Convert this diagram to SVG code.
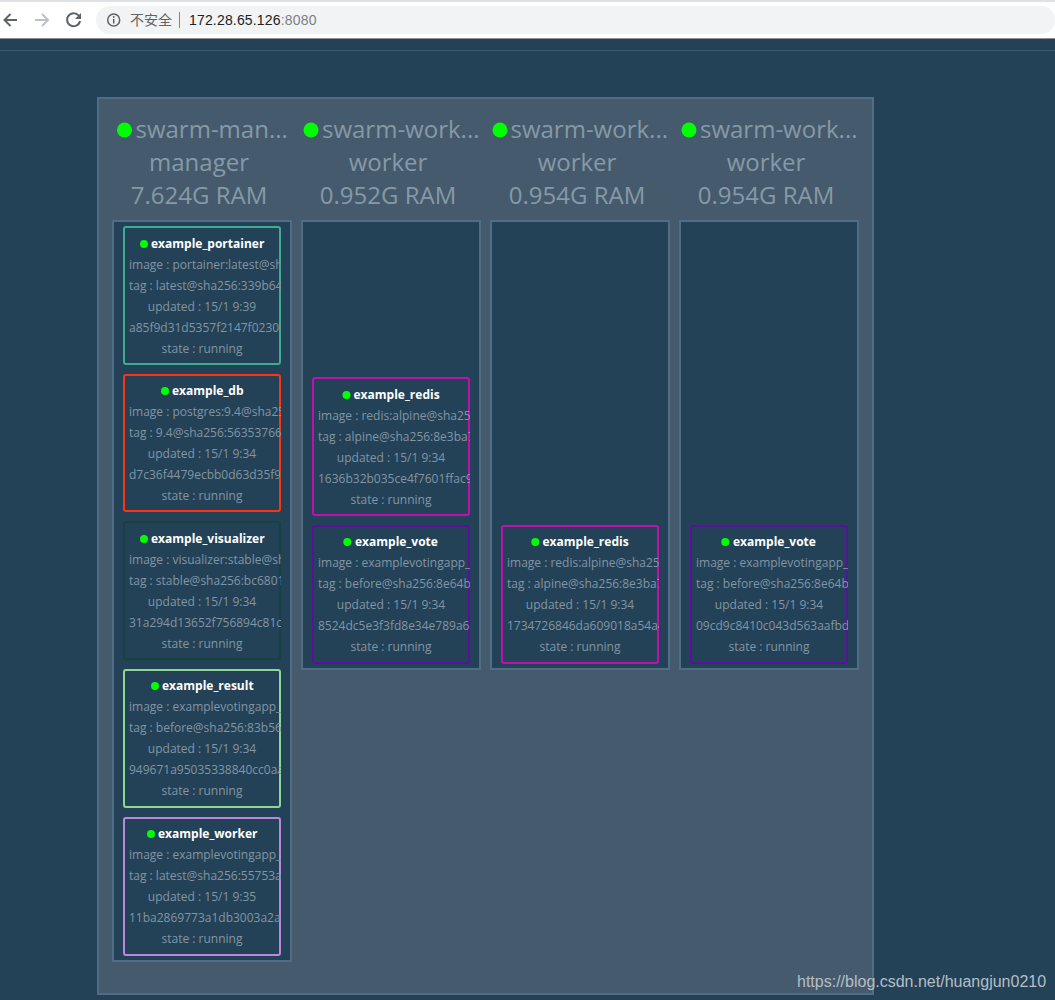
<svg xmlns="http://www.w3.org/2000/svg" width="1055" height="1000" viewBox="0 0 1055 1000">
<style>
.bar{fill:#fff}
.nodeh{font:24px "Open Sans",sans-serif;fill:#8699a7;text-anchor:middle}
.nodes{font:24px "Open Sans",sans-serif;fill:#8699a7}
.col{fill:#244257;stroke:#4f6d84;stroke-width:2}
.card{fill:#244257;stroke-width:2}
.t{font:bold 12px "Open Sans",sans-serif;fill:#fff}
.l{font:12px "Open Sans",sans-serif;fill:#8295a4}
.m{text-anchor:middle}
.dot{fill:#0f0}
</style>
<defs><clipPath id="cc"><rect x="0" y="0" width="157" height="138"/></clipPath></defs>
<rect width="1055" height="1000" fill="#244257"/>
<g id="browser">
<rect class="bar" width="1055" height="38"/>
<rect width="1055" height="2" fill="#dee1e6"/>
<rect y="38" width="1055" height="1" fill="#8a8f94"/>
<rect x="96" y="6" width="959" height="28" rx="14" fill="#f1f3f4"/>
<path d="M17 20H4.500M10.500 14l-6 6 6 6" fill="none" stroke="#5f6368" stroke-width="2"/>
<path d="M35 20h13M42 14l6 6-6 6" fill="none" stroke="#bdc1c6" stroke-width="2"/>
<path d="M79.500 17a6.500 6.500 0 1 0 .5 4" fill="none" stroke="#5f6368" stroke-width="2"/>
<path d="M81 13v6h-6z" fill="#5f6368"/>
<circle cx="113.700" cy="20" r="6" fill="none" stroke="#5f6368" stroke-width="1.500"/>
<path d="M113.700 19v4.500M113.700 16v1.700" stroke="#5f6368" stroke-width="1.500"/>
<text x="130" y="25" style="font:14px 'Noto Sans CJK SC',sans-serif;fill:#5f6368">不安全</text>
<rect x="179" y="12" width="1" height="16" fill="#80868b"/>
<text x="189" y="25" style="font:14px 'Liberation Sans',sans-serif;letter-spacing:.17px"><tspan fill="#202124">172.28.65.126</tspan><tspan fill="#7b8087">:8080</tspan></text>
</g>
<rect id="topline" y="50" width="1055" height="1" fill="#3a5a70"/>
<rect id="swarm" x="98" y="98" width="775" height="896" fill="#455b6d" stroke="#4f6d84" stroke-width="2"/>

<g id="node-manager">
<circle class="dot" cx="124.500" cy="130" r="7.500"/><text class="nodes" x="135.500" y="138">swarm-man...</text>
<text class="nodeh" x="199" y="171">manager</text><text class="nodeh" x="199" y="204">7.624G RAM</text>
<rect class="col" x="113" y="221" width="178" height="740"/>
</g>
<g id="node-worker1">
<circle class="dot" cx="311" cy="130" r="7.500"/><text class="nodes" x="322" y="138">swarm-work...</text>
<text class="nodeh" x="388" y="171">worker</text><text class="nodeh" x="388" y="204">0.952G RAM</text>
<rect class="col" x="302" y="221" width="178" height="448"/>
</g>
<g id="node-worker2">
<circle class="dot" cx="500" cy="130" r="7.500"/><text class="nodes" x="510.500" y="138">swarm-work...</text>
<text class="nodeh" x="577" y="171">worker</text><text class="nodeh" x="577" y="204">0.954G RAM</text>
<rect class="col" x="491" y="221" width="178" height="448"/>
</g>
<g id="node-worker3">
<circle class="dot" cx="689" cy="130" r="7.500"/><text class="nodes" x="700" y="138">swarm-work...</text>
<text class="nodeh" x="766" y="171">worker</text><text class="nodeh" x="766" y="204">0.954G RAM</text>
<rect class="col" x="680" y="221" width="178" height="448"/>
</g>

<g id="task-portainer" transform="translate(124,227)">
<rect class="card" width="156" height="137" rx="2" stroke="#3fab8f"/>
<g clip-path="url(#cc)"><circle class="dot" cx="20" cy="17" r="4"/><text class="t" x="27" y="21">example_portainer</text>
<text class="l" x="5" y="42">image : portainer:latest@sha256:339b64</text><text class="l" x="5" y="63">tag : latest@sha256:339b64a5f</text>
<text class="l m" x="78" y="84">updated : 15/1 9:39</text><text class="l" x="5" y="105">a85f9d31d5357f2147f02301abc</text><text class="l m" x="78" y="126">state : running</text></g>
</g>
<g id="task-db" transform="translate(124,375)">
<rect class="card" width="156" height="136" rx="2" stroke="#ff3311"/>
<g clip-path="url(#cc)"><circle class="dot" cx="41" cy="16" r="4"/><text class="t" x="48" y="20">example_db</text>
<text class="l" x="5" y="41">image : postgres:9.4@sha256:56353</text><text class="l" x="5" y="62">tag : 9.4@sha256:563537660abc</text>
<text class="l m" x="78" y="83">updated : 15/1 9:34</text><text class="l" x="5" y="104">d7c36f4479ecbb0d63d35f9abc12</text><text class="l m" x="78" y="125">state : running</text></g>
</g>
<g id="task-visualizer" transform="translate(124,522)">
<rect class="card" width="156" height="137" rx="2" stroke="#17423f"/>
<g clip-path="url(#cc)"><circle class="dot" cx="20" cy="17" r="4"/><text class="t" x="27" y="21">example_visualizer</text>
<text class="l" x="5" y="42">image : visualizer:stable@sha256:bc</text><text class="l" x="5" y="63">tag : stable@sha256:bc680132abc</text>
<text class="l m" x="78" y="84">updated : 15/1 9:34</text><text class="l" x="5" y="105">31a294d13652f756894c81cabc12</text><text class="l m" x="78" y="126">state : running</text></g>
</g>
<g id="task-result" transform="translate(124,670)">
<rect class="card" width="156" height="137" rx="2" stroke="#8fd694"/>
<g clip-path="url(#cc)"><circle class="dot" cx="31" cy="16" r="4"/><text class="t" x="38" y="20">example_result</text>
<text class="l" x="5" y="41">image : examplevotingapp_result</text><text class="l" x="5" y="62">tag : before@sha256:83b568abc12</text>
<text class="l m" x="78" y="83">updated : 15/1 9:34</text><text class="l" x="5" y="104">949671a95035338840cc0aabc12</text><text class="l m" x="78" y="125">state : running</text></g>
</g>
<g id="task-worker" transform="translate(124,818)">
<rect class="card" width="156" height="137" rx="2" stroke="#bb88dd"/>
<g clip-path="url(#cc)"><circle class="dot" cx="27" cy="16" r="4"/><text class="t" x="34" y="20">example_worker</text>
<text class="l" x="5" y="41">image : examplevotingapp_worker</text><text class="l" x="5" y="62">tag : latest@sha256:55753abc1234</text>
<text class="l m" x="78" y="83">updated : 15/1 9:35</text><text class="l" x="5" y="104">11ba2869773a1db3003a2aabc123</text><text class="l m" x="78" y="125">state : running</text></g>
</g>
<g id="task-redis-1" transform="translate(313,378)">
<rect class="card" width="156" height="137" rx="2" stroke="#c10fb0"/>
<g clip-path="url(#cc)"><circle class="dot" cx="33.500" cy="17" r="4"/><text class="t" x="40.500" y="21">example_redis</text>
<text class="l" x="5" y="42">image : redis:alpine@sha256:8e3ba</text><text class="l" x="5" y="63">tag : alpine@sha256:8e3ba7abc12</text>
<text class="l m" x="78" y="84">updated : 15/1 9:34</text><text class="l" x="5" y="105">1636b32b035ce4f7601ffac9abc12</text><text class="l m" x="78" y="126">state : running</text></g>
</g>
<g id="task-vote-1" transform="translate(313,526)">
<rect class="card" width="156" height="137" rx="2" stroke="#5c0f9c"/>
<g clip-path="url(#cc)"><circle class="dot" cx="34.300" cy="16" r="4"/><text class="t" x="42" y="20">example_vote</text>
<text class="l" x="5" y="41">image : examplevotingapp_vote</text><text class="l" x="5" y="62">tag : before@sha256:8e64b18abc1</text>
<text class="l m" x="78" y="83">updated : 15/1 9:34</text><text class="l" x="5" y="104">8524dc5e3f3fd8e34e789a6abc123</text><text class="l m" x="78" y="125">state : running</text></g>
</g>
<g id="task-redis-2" transform="translate(502,526)">
<rect class="card" width="156" height="137" rx="2" stroke="#c10fb0"/>
<g clip-path="url(#cc)"><circle class="dot" cx="33.300" cy="16" r="4"/><text class="t" x="40.500" y="20">example_redis</text>
<text class="l" x="5" y="41">image : redis:alpine@sha256:8e3ba</text><text class="l" x="5" y="62">tag : alpine@sha256:8e3ba7abc12</text>
<text class="l m" x="78" y="83">updated : 15/1 9:34</text><text class="l" x="5" y="104">1734726846da609018a54a4abc123</text><text class="l m" x="78" y="125">state : running</text></g>
</g>
<g id="task-vote-2" transform="translate(691,526)">
<rect class="card" width="156" height="137" rx="2" stroke="#5c0f9c"/>
<g clip-path="url(#cc)"><circle class="dot" cx="34.300" cy="16" r="4"/><text class="t" x="42" y="20">example_vote</text>
<text class="l" x="5" y="41">image : examplevotingapp_vote</text><text class="l" x="5" y="62">tag : before@sha256:8e64b18abc1</text>
<text class="l m" x="78" y="83">updated : 15/1 9:34</text><text class="l" x="5" y="104">09cd9c8410c043d563aafbdabc123</text><text class="l m" x="78" y="125">state : running</text></g>
</g>
<g id="connectors"/>
<text id="watermark" x="797" y="987" style="font:16px 'Liberation Sans',sans-serif;fill:#b4bec6">https://blog.csdn.net/huangjun0210</text>
</svg>
